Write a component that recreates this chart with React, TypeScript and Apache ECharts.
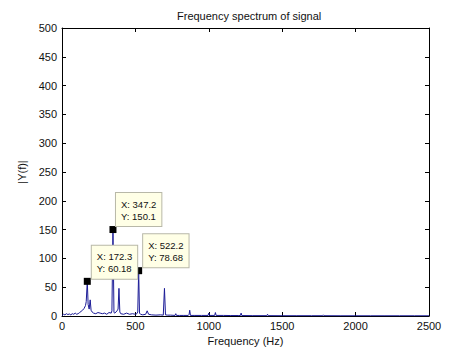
import React, { useEffect, useRef } from "react";
import * as echarts from "echarts";

const freqs = [0, 10, 20, 30, 40, 50, 60, 70, 80, 90, 100, 110, 120, 130, 140, 150, 160, 165, 172.3, 178, 185, 192, 198, 205, 215, 230, 245, 260, 275, 290, 305, 320, 335, 340, 347.2, 354, 360, 375, 382, 388, 394, 400, 420, 440, 460, 480, 500, 510, 516, 522.2, 528, 535, 550, 570, 580, 590, 610, 640, 670, 690, 698, 705, 720, 740, 770, 775, 780, 800, 830, 860, 866, 870, 875, 900, 950, 995, 1000, 1005, 1040, 1045, 1050, 1100, 1150, 1200, 1215, 1220, 1225, 1300, 1395, 1400, 1405, 1500, 1600, 1700, 1775, 1780, 1785, 1900, 2000, 2100, 2200, 2300, 2400, 2500];
const amps = [0.5, 3, 2, 4, 2.5, 3.5, 2, 4, 3, 5, 3, 4, 6, 8, 10, 13, 18, 25, 60.18, 20, 12, 28, 10, 7, 5, 4, 6, 5, 4, 5, 3, 6, 5, 9, 150.1, 6, 5, 9, 12, 48, 7, 4, 3, 5, 3, 4, 3, 4, 7, 78.68, 5, 3, 2, 3, 9, 3, 2, 1.5, 2, 1.5, 48, 2, 1.5, 1.5, 1, 4, 1, 1, 1, 1, 3, 10, 1, 1, 1, 1, 5, 1, 1, 6, 1, 1, 0.8, 0.8, 0.8, 5, 0.8, 0.6, 0.6, 3, 0.6, 0.5, 0.5, 0.5, 0.5, 2, 0.5, 0.4, 0.4, 0.4, 0.4, 0.4, 0.4, 0.4];
const tipFreqs = [347.2, 172.3, 522.2];
const tipAmps = [150.1, 60.18, 78.68];
const tipLabels = ["X: 347.2\nY: 150.1", "X: 172.3\nY: 60.18", "X: 522.2\nY: 78.68"];
const tipOffsets = [[6.5, -33], [8, -32], [8, -33]];

export default function App() {
  const ref = useRef<HTMLDivElement>(null);
  useEffect(() => {
    const chart = echarts.init(ref.current!, null, { renderer: "svg" });
    const font = "Arial, 'Liberation Sans', sans-serif";
    const axisCommon = {
      axisLine: { onZero: false, lineStyle: { color: "#000", width: 1 } },
      axisTick: { inside: true, length: 4, lineStyle: { color: "#000" } },
      splitLine: { show: false },
    };
    chart.setOption({
      animation: false,
      backgroundColor: "#fff",
      title: {
        text: "Frequency spectrum of signal",
        left: 172,
        top: 5,
        textStyle: { fontSize: 11, fontWeight: "normal", color: "#111", fontFamily: font },
      },
      grid: { left: 62, right: 45, top: 28, bottom: 39 },
      xAxis: [
        {
          type: "value", min: 0, max: 2500, interval: 500, position: "bottom",
          name: "Frequency (Hz)", nameLocation: "middle", nameGap: 19,
          nameTextStyle: { fontSize: 11, color: "#111", fontFamily: font },
          axisLabel: { fontSize: 11, color: "#111", fontFamily: font, margin: 4, formatter: (v: number) => String(v) },
          ...axisCommon,
        },
        {
          type: "value", min: 0, max: 2500, interval: 500, position: "top",
          axisLabel: { show: false }, ...axisCommon,
        },
      ],
      yAxis: [
        {
          type: "value", min: 0, max: 500, interval: 50, position: "left",
          name: "|Y(f)|", nameLocation: "middle", nameGap: 33,
          nameTextStyle: { fontSize: 11, color: "#111", fontFamily: font },
          axisLabel: { fontSize: 11, color: "#111", fontFamily: font, margin: 5 },
          ...axisCommon,
        },
        {
          type: "value", min: 0, max: 500, interval: 50, position: "right",
          axisLabel: { show: false }, ...axisCommon,
        },
      ],
      series: [
        {
          type: "line",
          data: freqs.map((f, i) => [f, amps[i]]),
          showSymbol: false,
          symbol: "none",
          lineStyle: { color: "#1a1a96", width: 1 },
        },
        {
          type: "scatter",
          symbol: "rect",
          symbolSize: 7,
          itemStyle: { color: "#000", opacity: 1 },
          z: 5,
          data: tipFreqs.map((f, i) => ({
            value: [f, tipAmps[i]],
            label: {
              show: true,
              formatter: tipLabels[i],
              position: tipOffsets[i],
              backgroundColor: "#ffffe6",
              borderColor: "#b8b8a8",
              borderWidth: 1,
              padding: [5, 5, 4, 5],
              fontSize: 9.5,
              lineHeight: 12,
              color: "#111",
              fontFamily: font,
            },
          })),
        },
      ],
    });
    return () => chart.dispose();
  }, []);
  return <div ref={ref} style={{ position: "fixed", left: 0, top: 0, width: 474, height: 355 }} />;
}
